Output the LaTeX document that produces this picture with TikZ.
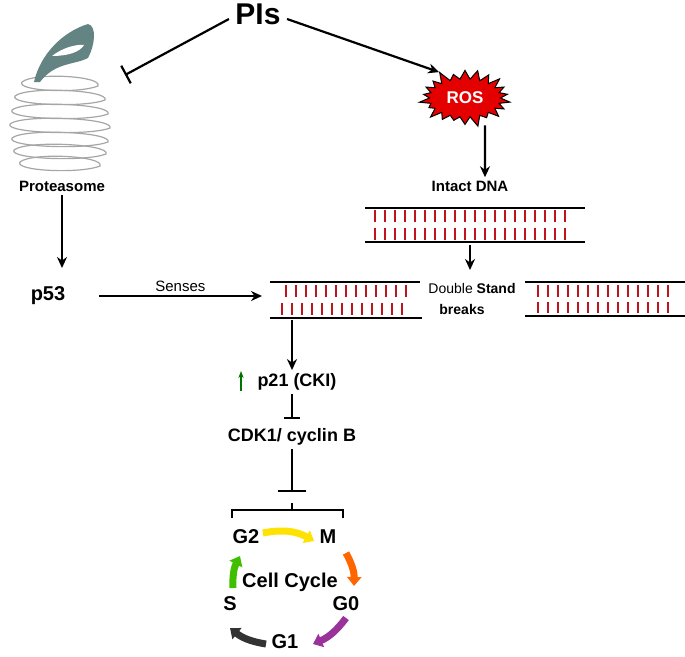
\documentclass[tikz,border=0pt]{standalone}
\usepackage{fontspec}
\setmainfont{Liberation Sans}
\usetikzlibrary{arrows.meta,shapes.misc,shapes.geometric,shapes.symbols,decorations.pathreplacing}
\definecolor{dnared}{RGB}{190,20,30}
\begin{document}
\begin{tikzpicture}[x=1pt,y=-1pt,
  lbl/.style={font=\bfseries\fontsize{20}{22}\selectfont},
  arr/.style={-{Stealth[length=11pt,width=10pt]},line width=2.2pt},
  inh/.style={-{Bar[width=20pt]},line width=2.2pt},
  strand/.style={line width=2.2pt},
  tick/.style={dnared,line width=2pt},
  cyc/.style={line width=7pt,-{Triangle[length=9pt,width=14pt]}},
  prot/.style={gray!70,line width=1.2pt}]
\useasboundingbox (0,0) rectangle (685,656);
% PIs
\node[font=\bfseries\fontsize{30}{32}\selectfont] (pis) at (258,14) {PIs};
\coordinate (inhEnd) at (125,75);
\draw[inh] (pis.west) ++(-3,5) -- (inhEnd);
% ROS star
\node[starburst,starburst points=22,starburst point height=12pt,fill=red!90!black,draw=black,line width=1pt,
  minimum width=95pt,minimum height=62pt,font=\bfseries\fontsize{17}{19}\selectfont,text=white] (ros) at (465,98) {ROS};
\draw[arr] (pis.east) ++(3,5) -- (ros.north west);
% proteasome
\foreach \y/\w in {82/38,96/45,110/48,124/50,138/48,150/46,162/40}{
  \draw[prot] ({60-\w},\y) .. controls ({60-\w-6},\y+9) and ({60+\w-20},\y+12) .. ({60+\w},\y+4)
   .. controls ({60+\w+5},\y-6) and ({60-\w+12},\y-10) .. ({60-\w},\y);}
\fill[gray!55!teal!70!black!75] (34,82) .. controls (40,55) and (62,32) .. (88,24) .. controls (97,26) and (95,45) .. (88,58)
 .. controls (75,65) and (55,62) .. (40,82) -- cycle;
\fill[white] (52,56) .. controls (62,48) and (76,44) .. (84,45) .. controls (80,52) and (68,56) .. (52,56);
\node[font=\bfseries\fontsize{15}{17}\selectfont] (prot) at (62,186) {Proteasome};
\node[font=\bfseries\fontsize{20}{22}\selectfont] (p53) at (48,296) {p53};
\draw[arr] (prot.south) -- (62,268);
% intact DNA
\node[font=\bfseries\fontsize{15}{17}\selectfont] (intact) at (470,186) {Intact DNA};
\draw[arr] (ros.south) ++(20,0) -- (intact.north -| 485,0);
\draw[strand] (365,208) -- (585,208); \draw[strand] (365,242) -- (585,242);
\foreach \x in {375,385,...,565}{\draw[tick] (\x,210) -- (\x,222); \draw[tick] (\x,228) -- (\x,240);}
\coordinate (ia) at (470,245);
\coordinate (ib) at (470,270);
\draw[arr] (ia) -- (ib);
% broken DNA
\draw[strand] (270,282) -- (420,282); \draw[strand] (270,318) -- (422,318);
\foreach \x in {286,296,...,406}{\draw[tick] (\x,285) -- (\x,297);}
\foreach \x in {282,292,...,402}{\draw[tick] (\x,303) -- (\x,315);}
\draw[strand] (525,282) -- (685,282); \draw[strand] (525,316) -- (685,316);
\foreach \x in {538,548,...,668}{\draw[tick] (\x,285) -- (\x,297); \draw[tick] (\x,302) -- (\x,313);}
\node[font=\fontsize{14}{16}\selectfont] (dbl) at (472,288) {Double \textbf{Stand}};
\node[font=\bfseries\fontsize{14}{16}\selectfont] (brk) at (462,309) {breaks};
% senses
\coordinate (dsb) at (262,296);
\draw[arr] (p53.east) ++(30,0) -- (dsb) node[midway,above,font=\fontsize{15}{17}\selectfont] {Senses};
% p21
\node[lbl,font=\bfseries\fontsize{18}{20}\selectfont] (p21) at (297,382) {p21 (CKI)};
\draw[-{Stealth[length=7pt]},line width=2.2pt,green!45!black] (241,391) -- (241,371);
\draw[arr] (292,320) -- (p21.north -| 292,0);
\node[lbl,font=\bfseries\fontsize{18}{20}\selectfont] (cdk) at (292,437) {CDK1/ cyclin B};
\draw[inh,-{Bar[width=16pt]}] (p21.south -| 292,0) -- (292,419);
\coordinate (br) at (292,492);
\draw[inh,-{Bar[width=28pt]}] (cdk.south -| 292,0) -- (br);
\draw[line width=2pt] (232,518) -- (232,510) -- (343,510) -- (343,518) (292,510) -- (292,503);
% cell cycle
\node[lbl] (g2) at (246,537) {G2};
\node[lbl] (m) at (328,537) {M};
\node[lbl] (cc) at (290,582) {Cell Cycle};
\node[lbl] (s) at (230,604) {S};
\node[lbl] (g0) at (346,604) {G0};
\node[lbl] (g1) at (285,642) {G1};
\draw[cyc,yellow!85!orange] (g2.east) ++(0,-4) to[bend left=20] ([xshift=-2pt,yshift=-4pt]m.west);
\draw[cyc,orange!80!red] (346,553) to[bend left=15] (354,586);
\draw[cyc,violet!80] (346,618) to[bend left=15] (313,644);
\draw[cyc,black!80] (266,644) to[bend left=15] (230,628);
\draw[cyc,green!50!olive] (233,588) to[bend left=15] (240,556);
\end{tikzpicture}
\end{document}
